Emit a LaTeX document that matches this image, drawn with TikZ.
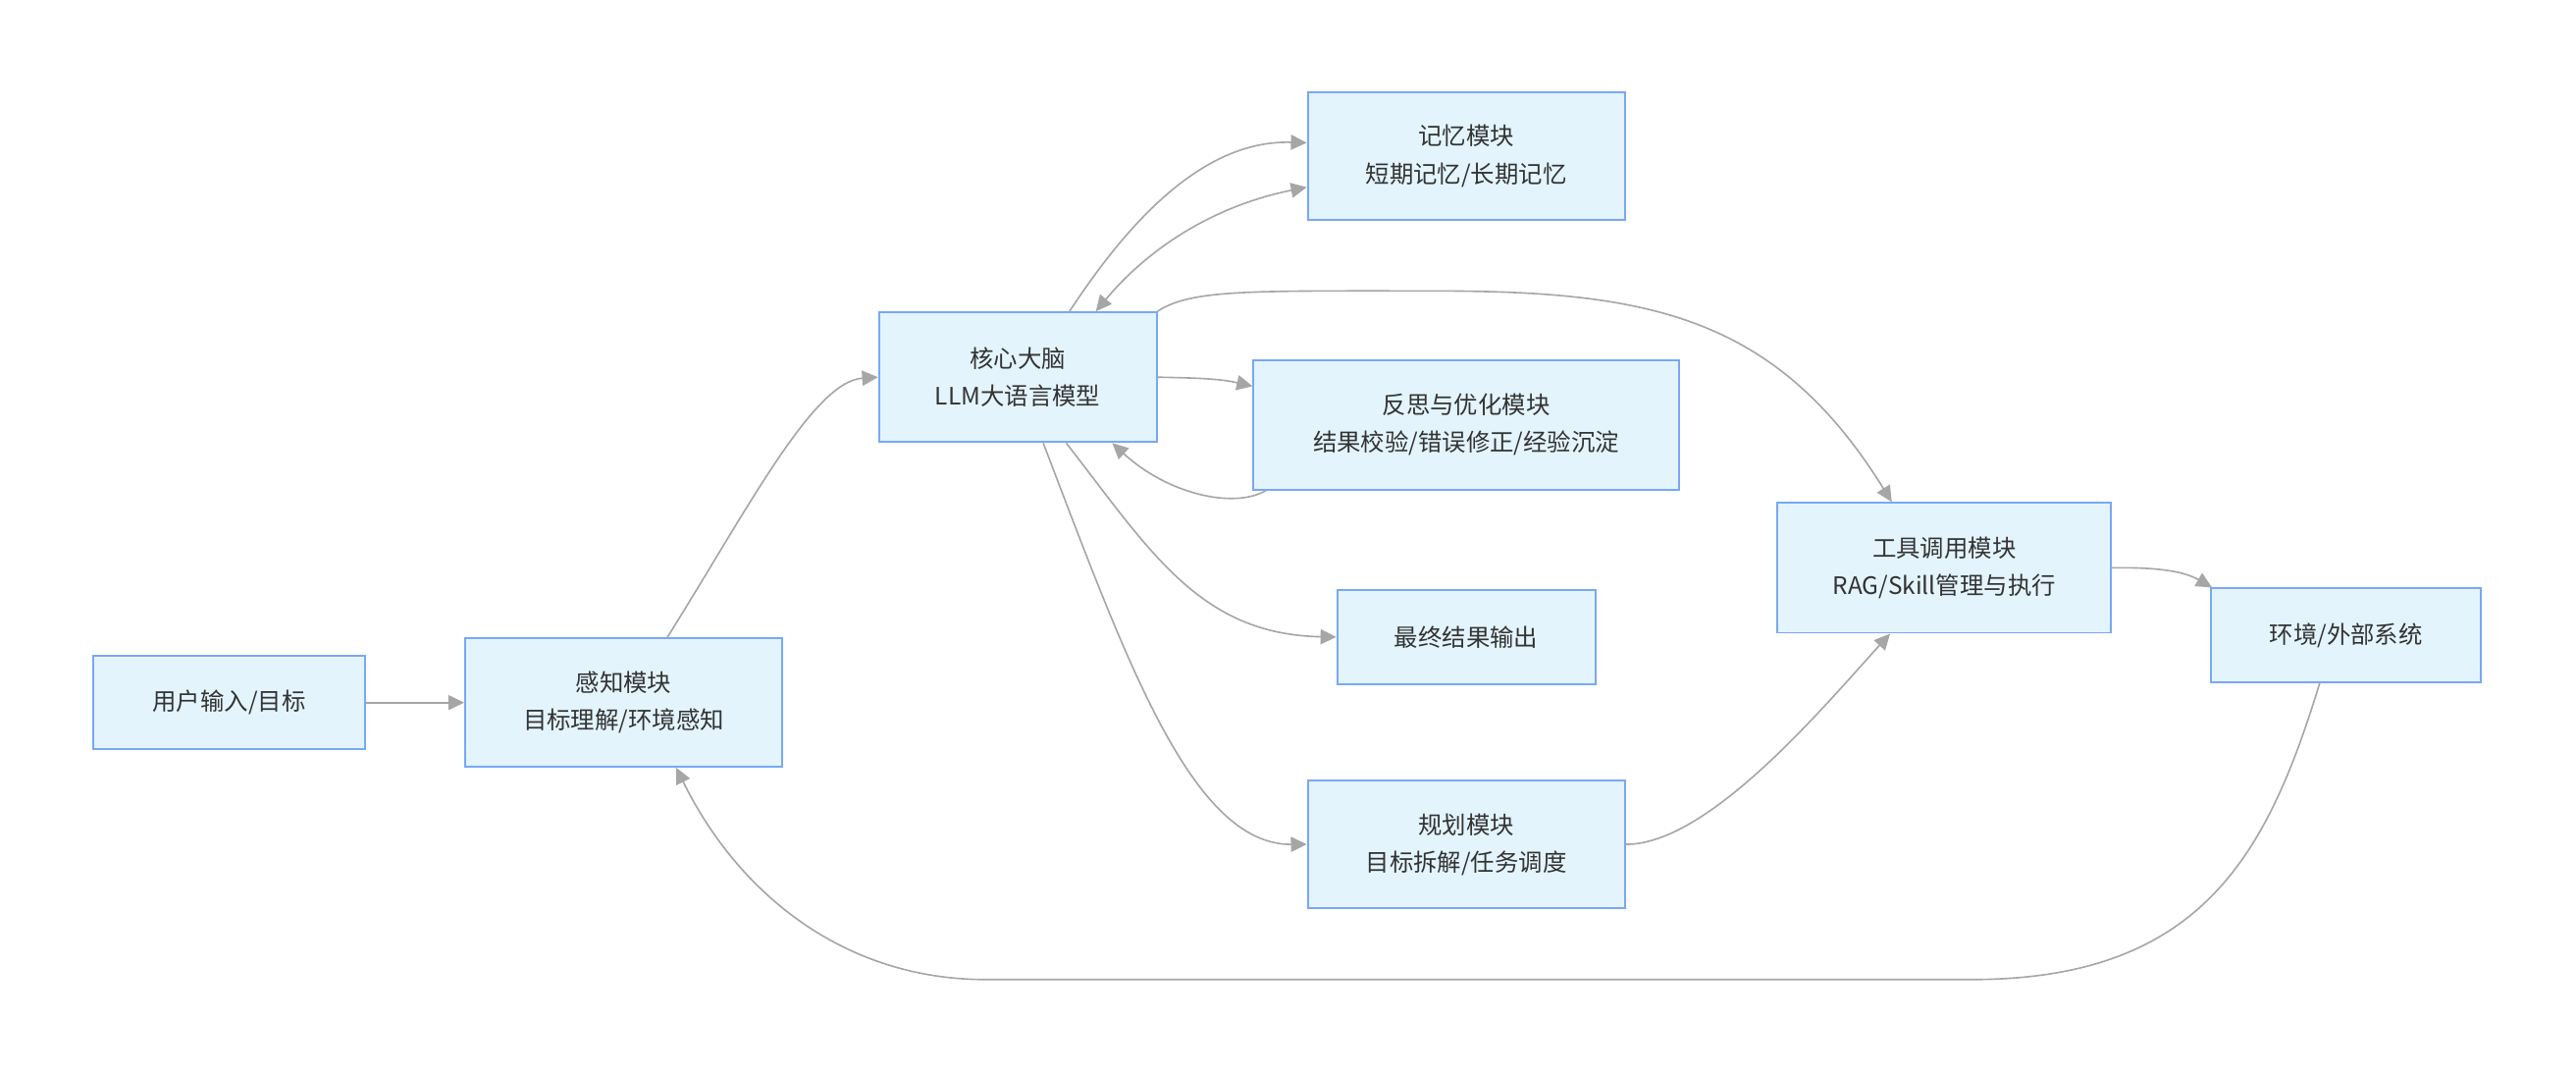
\documentclass[tikz,border=0pt]{standalone}
\usepackage{fontspec}
\setmainfont{Noto Sans CJK SC}
\usetikzlibrary{positioning, arrows.meta, calc}
\definecolor{boxfill}{HTML}{E3F4FD}
\definecolor{boxline}{HTML}{78A8F5}
\definecolor{edgecol}{HTML}{A6A6A6}
\definecolor{textcol}{HTML}{333333}
\tikzset{
>={Triangle[length=5.5pt,width=5.2pt]}, % filled triangle heads
node distance=1.2cm, % gap between the stacked modules
module/.style={draw=boxline, fill=boxfill, line width=0.65pt, text=textcol, align=center, inner sep=0pt, font=\fontsize{8.3pt}{13pt}\selectfont}, % every box
link/.style={->, draw=edgecol, line width=0.55pt}, % every connector
}
\begin{document}
\begin{tikzpicture}[x=0.02cm, y=-0.02cm]
                \useasboundingbox (0,0) rectangle (1568,653);
                \node[module, minimum width=3.3cm, minimum height=1.14cm] (user) at (139.5,427.5) {用户输入/目标};
                \node[module, minimum width=3.86cm, minimum height=1.56cm, right=1.2cm of user] (perceive) {感知模块\\目标理解/环境感知};
                \node[module, minimum width=3.38cm, minimum height=1.58cm] (core) at (619.5,229.5) {核心大脑\\LLM大语言模型};
                \node[module, minimum width=5.18cm, minimum height=1.58cm] (reflect) at (892.5,258.5) {反思与优化模块\\结果校验/错误修正/经验沉淀};
                \node[module, minimum width=3.86cm, minimum height=1.56cm, above=1.68cm of reflect] (memory) {记忆模块\\短期记忆/长期记忆};
                \node[module, minimum width=3.14cm, minimum height=1.14cm, below=1.2cm of reflect] (output) {最终结果输出};
                \node[module, minimum width=3.86cm, minimum height=1.56cm, below=1.15cm of output] (plan) {规划模块\\目标拆解/任务调度};
                \node[module, minimum width=4.06cm, minimum height=1.58cm] (tool) at (1183.5,345.5) {工具调用模块\\RAG/Skill管理与执行};
                \node[module, minimum width=3.28cm, minimum height=1.14cm] (env) at (1428,386.5) {环境/外部系统};
                \draw[link] (user) -- (perceive);
                \draw[link] ($(perceive.north)+(26.5,0)$) .. controls (455,310) and (495,232) .. (core.west);
                \draw[link] ($(core.north)+(31.5,0)$) .. controls (690,130) and (735,85) .. ($(memory.west)+(0,-8)$);
                \draw[link, <->] ($(memory.west)+(0,19)$) .. controls (740,125) and (700,150) .. ($(core.north)+(47.5,0)$);
                \draw[link] (core.east) .. controls (735,230) and (745,231) .. ($(reflect.west)+(0,-23.5)$);
                \draw[link] ($(reflect.south west)+(8,0)$) .. controls (750,310) and (710,300) .. ($(core.south)+(57.5,0)$);
                \draw[link] ($(core.south)+(29.5,0)$) .. controls (700,335) and (730,386) .. (output.west);
                \draw[link] ($(core.south)+(15.5,0)$) .. controls (685,400) and (725,514) .. (plan.west);
                \draw[link] (core.north east) .. controls (725,176) and (760,177) .. (870,177) .. controls (1000,177) and (1080,190) .. ($(tool.north)+(-32,0)$);
                \draw[link] (plan.east) .. controls (1040,514) and (1110,430) .. ($(tool.south)+(-33,0)$);
                \draw[link] (tool.east) .. controls (1315,345) and (1330,348) .. ($(env.north west)+(1,0)$);
                \draw[link] ($(env.south)+(-16,0)$) .. controls (1380,520) and (1340,596) .. (1200,596) -- (600,596) .. controls (515,596) and (450,545) .. ($(perceive.south)+(32,0)$);
                \end{tikzpicture}
\end{document}
